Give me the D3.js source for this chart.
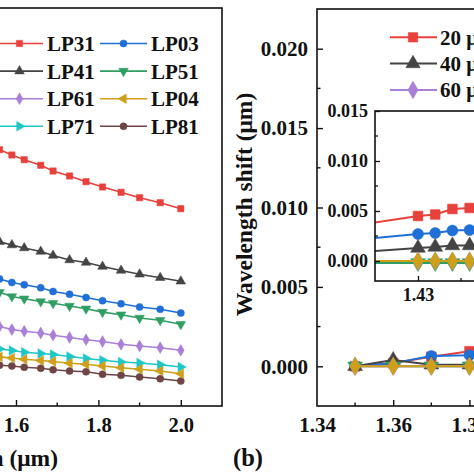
<!DOCTYPE html>
<html><head><meta charset="utf-8">
<script src="https://cdn.jsdelivr.net/npm/d3@7"></script>
<style>
html,body{margin:0;padding:0;background:#fff;}
svg{display:block;}
text{font-family:"Liberation Serif","Times New Roman",serif;font-weight:bold;fill:#111;}
</style></head>
<body><svg id="c" width="474" height="474"></svg>
<script>
// ---------- Panel (a) data (visible part; x in µm, y in arbitrary units) ----------
const lpX = [1.53, 1.56, 1.59, 1.62, 1.66, 1.69, 1.73, 1.77, 1.81, 1.855, 1.9, 1.95, 2.0];
const lpNames = ["LP31","LP03","LP41","LP51","LP61","LP04","LP71","LP81"];
const LP31 = [261, 256.3, 251, 246.3, 240.7, 235, 230, 224.3, 219, 213.7, 208.3, 203.3, 197.3];
const LP03 = [130, 127, 123.5, 121.2, 118.3, 114.5, 111.7, 108.5, 105.3, 102.3, 99, 96.7, 93];
const LP41 = [167.5, 164.2, 161, 158, 154.5, 150.5, 146, 143.5, 139.5, 135.5, 131.7, 128.3, 124.7];
const LP51 = [117, 113.7, 109.5, 107.2, 104.5, 102.8, 100, 97.2, 93.9, 91.3, 88, 85.7, 81.7];
const LP61 = [82, 79.5, 76.5, 74.8, 73, 70.8, 68.5, 66.3, 64.5, 61.7, 60, 58.3, 55.7];
const LP04 = [50.5, 49.2, 48, 46.7, 45.5, 44.5, 42.8, 41.7, 40, 38.3, 36.7, 35, 32.3];
const LP71 = [58.5, 57, 55.5, 53.8, 52.5, 51.5, 49.5, 47.5, 45.8, 44, 43, 41.3, 39];
const LP81 = [41.5, 40.8, 40, 38.7, 37.8, 36.2, 35, 34.2, 31.8, 30.7, 29, 27.3, 25];
const aXTicks = [1.6, 1.8, 2.0];
const aXMinor = [1.5, 1.7, 1.9];

// ---------- Panel (b) data ----------
const wNames = ["20 μm","30 μm","40 μm","50 μm","60 μm","70 μm"];
const bX = [1.35, 1.36, 1.37, 1.38, 1.39];
const b20 = [0, 0.0002, 0.0006, 0.00095, 0.0013];
const b30 = [0, 0.0002, 0.00065, 0.0007, 0.0011];
const b40 = [0, 0.0004, 0.0001, 0.0001, 0.0004];
const b50 = [0, 0, 0, 0, 0];
const b60 = [0, 0, 0, 0, 0];
const b70 = [0, 0, 0, 0, 0];
const insX = [1.42, 1.43, 1.432, 1.434, 1.436, 1.438];
const i20 = [0.0032, 0.0045, 0.00465, 0.0052, 0.0053, 0.0054];
const i30 = [0.0019, 0.0027, 0.0028, 0.00305, 0.0031, 0.0032];
const i40 = [0.0007, 0.0013, 0.0014, 0.00155, 0.00155, 0.0016];
const i50 = [-0.0002, -0.0002, -0.0002, -0.0002, -0.0002, -0.0002];
const i60 = [0, 0, 0, 0, 0, 0];
const i70 = [0, 0, 0, 0, 0, 0];
const bYTicks = [0, 0.005, 0.010, 0.015, 0.020];
const bXTicks = [1.34, 1.36, 1.38];
const insYTicks = [0, 0.005, 0.010, 0.015];
const insXTicks = [1.43];

const svg = d3.select("#c");
const fmt3 = d3.format(".3f");
const FONT = '"Liberation Serif","Times New Roman",serif';

function sym(type, size, rot){
  const p = d3.symbol().type(type).size(size)();
  return {p, rot: rot||0};
}
const shapes = {
  square: s=>sym(d3.symbolSquare, s),
  circle: s=>sym(d3.symbolCircle, s),
  up: s=>sym(d3.symbolTriangle, s),
  down: s=>sym(d3.symbolTriangle, s, 180),
  diamond: s=>sym(d3.symbolDiamond, s),
  left: s=>sym(d3.symbolTriangle, s, -90),
  right: s=>sym(d3.symbolTriangle, s, 90)
};

function drawSeries(g, xs, ys, x, y, color, shape, msize, lw){
  const pts = xs.map((v,i)=>[v, ys[i]]);
  g.append("path").attr("d", d3.line().x(d=>x(d[0])).y(d=>y(d[1]))(pts))
    .attr("fill","none").attr("stroke",color).attr("stroke-width",lw);
  const s = shapes[shape](msize);
  g.selectAll(null).data(pts).enter().append("path")
    .attr("d", s.p)
    .attr("transform", d=>`translate(${x(d[0])},${y(d[1])}) rotate(${s.rot})`)
    .attr("fill", color).attr("stroke", color).attr("stroke-width",0.5);
}
function styleAxis(g, fs, lw){
  g.select(".domain").remove();
  g.selectAll("line").attr("stroke","#111").attr("stroke-width",lw);
  g.selectAll("text").attr("font-size",fs).attr("fill","#111")
    .style("font-family",FONT).style("font-weight","bold");
}

// ================= Panel (a) =================
const aL = -190, aR = 222, aT = 8, aB = 406;
const xa = d3.scaleLinear().domain([1.1, 2.1]).range([aL, aR]);
const ya = d3.scaleLinear().domain([0, 398]).range([aB, aT]);

const gA = svg.append("g");
const defs = svg.append("defs");
defs.append("clipPath").attr("id","clipA").append("rect")
  .attr("x",aL).attr("y",aT).attr("width",aR-aL).attr("height",aB-aT);

const aSeries = [
  {name:lpNames[0], v:LP31, c:"#e8413c", s:"square"},
  {name:lpNames[1], v:LP03, c:"#1f6fd6", s:"circle"},
  {name:lpNames[2], v:LP41, c:"#444444", s:"up"},
  {name:lpNames[3], v:LP51, c:"#2f9e62", s:"down"},
  {name:lpNames[4], v:LP61, c:"#a97fd8", s:"diamond"},
  {name:lpNames[5], v:LP04, c:"#cf9f1b", s:"left"},
  {name:lpNames[6], v:LP71, c:"#1fc6c6", s:"right"},
  {name:lpNames[7], v:LP81, c:"#6e4545", s:"circle"}
];
const gAData = gA.append("g").attr("clip-path","url(#clipA)");
aSeries.slice().reverse().forEach(sr=>drawSeries(gAData, lpX, sr.v, xa, ya, sr.c, sr.s, 40, 1.6));

gA.append("rect").attr("x",aL).attr("y",aT).attr("width",aR-aL).attr("height",aB-aT)
  .attr("fill","none").attr("stroke","#111").attr("stroke-width",1.6);
const axA = d3.axisBottom(xa).tickValues(aXTicks).tickSizeInner(-6).tickSizeOuter(0).tickPadding(11).tickFormat(d3.format(".1f"));
const gax = gA.append("g").attr("transform",`translate(0,${aB})`).call(axA);
styleAxis(gax, 20.5, 1.4);
gA.selectAll(".minA").data(aXMinor).enter().append("line")
  .attr("x1",d=>xa(d)).attr("x2",d=>xa(d)).attr("y1",aB).attr("y2",aB-3.5)
  .attr("stroke","#111").attr("stroke-width",1.4);
gA.append("text").attr("x",58).attr("y",466).attr("text-anchor","end").attr("font-size",23.5).text("Wavelength (μm)");

// legend (a)
const legA = gA.append("g");
aSeries.forEach((sr,i)=>{
  const col = i%2, row = Math.floor(i/2);
  const cy = 43.5 + row*27.6;
  const x0 = col===0 ? -4 : 100;
  const x1 = x0 + 47;
  legA.append("line").attr("x1",x0).attr("x2",x1).attr("y1",cy).attr("y2",cy)
    .attr("stroke",sr.c).attr("stroke-width",1.6);
  const s = shapes[sr.s](40);
  legA.append("path").attr("d",s.p).attr("transform",`translate(${(x0+x1)/2},${cy}) rotate(${s.rot})`)
    .attr("fill",sr.c).attr("stroke",sr.c).attr("stroke-width",0.5);
  legA.append("text").attr("x",x1+4).attr("y",cy+7.5).attr("font-size",21).text(sr.name);
});

// ================= Panel (b) =================
const bL = 317, bR = 780, bT = 9, bB = 406;
const xb = d3.scaleLinear().domain([1.34, 1.4615]).range([bL, bR]);
const yb = d3.scaleLinear().domain([-0.0025, 0.0225]).range([bB, bT]);
defs.append("clipPath").attr("id","clipB").append("rect")
  .attr("x",bL).attr("y",bT).attr("width",bR-bL).attr("height",bB-bT);
const gB = svg.append("g");
const bSeries = [
  {name:wNames[0], v:b20, iv:i20, c:"#e8413c", s:"square"},
  {name:wNames[1], v:b30, iv:i30, c:"#1f6fd6", s:"circle"},
  {name:wNames[2], v:b40, iv:i40, c:"#444444", s:"up"},
  {name:wNames[3], v:b50, iv:i50, c:"#2f9e62", s:"down"},
  {name:wNames[4], v:b60, iv:i60, c:"#a97fd8", s:"diamond"},
  {name:wNames[5], v:b70, iv:i70, c:"#cf9f1b", s:"diamond"}
];
const gBData = gB.append("g").attr("clip-path","url(#clipB)");
bSeries.forEach(sr=>drawSeries(gBData, bX, sr.v, xb, yb, sr.c, sr.s, 95, 2));

gB.append("rect").attr("x",bL).attr("y",bT).attr("width",bR-bL).attr("height",bB-bT)
  .attr("fill","none").attr("stroke","#111").attr("stroke-width",1.6);
const ayB = d3.axisLeft(yb).tickValues(bYTicks).tickSizeInner(-6).tickSizeOuter(0).tickPadding(9).tickFormat(fmt3);
const gby = gB.append("g").attr("transform",`translate(${bL},0)`).call(ayB);
styleAxis(gby, 21, 1.4);
const bYMinor = [0.0025, 0.0075, 0.0125, 0.0175];
gB.selectAll(".minBy").data(bYMinor).enter().append("line")
  .attr("y1",d=>yb(d)).attr("y2",d=>yb(d)).attr("x1",bL).attr("x2",bL+3.5)
  .attr("stroke","#111").attr("stroke-width",1.4);
const axB = d3.axisBottom(xb).tickValues(bXTicks).tickSizeInner(-6).tickSizeOuter(0).tickPadding(11).tickFormat(d3.format(".2f"));
const gbx = gB.append("g").attr("transform",`translate(0,${bB})`).call(axB);
styleAxis(gbx, 21, 1.4);
gbx.selectAll(".tick").filter(d=>d===1.34).select("line").remove();
const bXMinor = [1.35, 1.37, 1.39];
gB.selectAll(".minBx").data(bXMinor).enter().append("line")
  .attr("x1",d=>xb(d)).attr("x2",d=>xb(d)).attr("y1",bB).attr("y2",bB-3.5)
  .attr("stroke","#111").attr("stroke-width",1.4);
gB.append("text").attr("transform","translate(252,204.5) rotate(-90)").attr("text-anchor","middle")
  .attr("font-size",23.5).text("Wavelength shift (μm)");
gB.append("text").attr("x",233).attr("y",466).attr("font-size",24.5).text("(b)");

// legend (b)
const legB = gB.append("g");
[0,2,4].forEach((k,row)=>{
  const sr = bSeries[k];
  const cy = 37.3 + row*26.3;
  legB.append("line").attr("x1",390).attr("x2",437).attr("y1",cy).attr("y2",cy)
    .attr("stroke",sr.c).attr("stroke-width",2);
  const s = shapes[sr.s](90);
  legB.append("path").attr("d",s.p).attr("transform",`translate(413,${cy}) rotate(${s.rot})`)
    .attr("fill",sr.c).attr("stroke",sr.c).attr("stroke-width",0.5);
  legB.append("text").attr("x",440).attr("y",cy+7.5).attr("font-size",21).text(sr.name);
});

// ---------- inset ----------
const iL = 375, iR = 600, iT = 111, iB = 281;
const xi = d3.scaleLinear().domain([1.425, 1.425 + (iR-iL)/8600]).range([iL, iR]);
const yi = d3.scaleLinear().domain([-0.002, 0.015]).range([iB, iT]);
defs.append("clipPath").attr("id","clipI").append("rect")
  .attr("x",iL).attr("y",iT).attr("width",iR-iL).attr("height",iB-iT);
const gI = svg.append("g");
gI.append("rect").attr("x",iL).attr("y",iT).attr("width",iR-iL).attr("height",iB-iT).attr("fill","#fff");
const gIData = gI.append("g").attr("clip-path","url(#clipI)");
bSeries.forEach(sr=>drawSeries(gIData, insX, sr.iv, xi, yi, sr.c, sr.s, 95, 2));
gI.append("rect").attr("x",iL).attr("y",iT).attr("width",iR-iL).attr("height",iB-iT)
  .attr("fill","none").attr("stroke","#111").attr("stroke-width",1.6);
const ayI = d3.axisLeft(yi).tickValues(insYTicks).tickSizeInner(-5).tickSizeOuter(0).tickPadding(7).tickFormat(fmt3);
const giy = gI.append("g").attr("transform",`translate(${iL},0)`).call(ayI);
styleAxis(giy, 18, 1.3);
const iYMinor = [0.0025, 0.0075, 0.0125];
gI.selectAll(".minIy").data(iYMinor).enter().append("line")
  .attr("y1",d=>yi(d)).attr("y2",d=>yi(d)).attr("x1",iL).attr("x2",iL+3)
  .attr("stroke","#111").attr("stroke-width",1.3);
const axI = d3.axisBottom(xi).tickValues(insXTicks).tickSizeInner(-5).tickSizeOuter(0).tickPadding(7).tickFormat(d3.format(".2f"));
const gix = gI.append("g").attr("transform",`translate(0,${iB})`).call(axI);
styleAxis(gix, 18, 1.3);
const iXMinor = [1.435];
gI.selectAll(".minIx").data(iXMinor).enter().append("line")
  .attr("x1",d=>xi(d)).attr("x2",d=>xi(d)).attr("y1",iB).attr("y2",iB-3)
  .attr("stroke","#111").attr("stroke-width",1.3);
</script></body></html>
